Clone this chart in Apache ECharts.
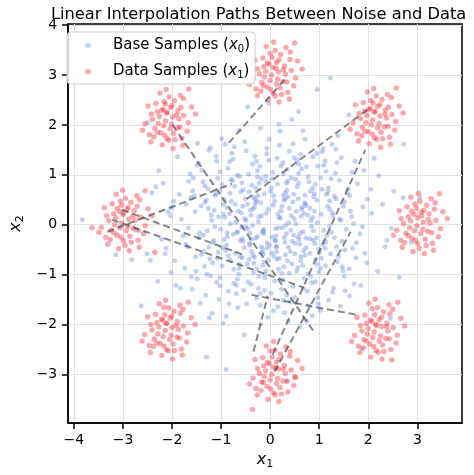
<!DOCTYPE html>
<html>
<head>
<meta charset="utf-8">
<script src="https://cdn.jsdelivr.net/npm/echarts@6/dist/echarts.min.js"></script>
<style>
  html, body { margin: 0; padding: 0; background: #fff; }
  #chart { width: 474px; height: 475px; }
</style>
</head>
<body>
<div id="chart"></div>
<script>
// tick labels
const xTicks = [-4, -3, -2, -1, 0, 1, 2, 3];
const yTicks = [-3, -2, -1, 0, 1, 2, 3, 4];

// base samples x0 (noise cloud)
const baseSamples = [
  [0.12,-0.45],[-1.03,0.67],[0.58,1.21],[-0.27,-0.88],[1.44,0.09],[-0.66,-0.14],[0.31,0.52],[-1.72,-0.39],[0.85,-1.16],[-0.08,0.23],
  [2.05,0.71],[-0.49,1.48],[0.17,-0.06],[-1.21,-1.02],[0.73,0.38],[-0.35,-0.61],[1.12,-0.47],[-0.93,0.15],[0.44,2.11],[-2.18,0.83],
  [0.02,-1.37],[1.67,1.05],[-0.71,0.41],[0.29,-0.26],[-1.48,1.63],[0.96,-0.79],[-0.18,0.92],[0.61,-2.04],[-0.55,-0.33],[1.31,0.57],
  [-0.84,-1.58],[0.38,0.04],[-1.95,-0.72],[1.06,1.46],[-0.12,-0.74],[0.77,0.19],[-0.43,0.66],[2.38,-0.31],[-1.14,0.29],[0.24,-0.97],
  [-0.63,1.89],[1.53,-1.32],[0.09,0.47],[-1.36,-0.21],[0.68,-0.52],[-0.21,1.17],[1.89,0.36],[-0.98,-0.82],[0.47,1.62],[-2.51,-0.58],
  [0.33,-0.18],[-0.77,0.88],[1.21,-0.03],[-0.05,-1.85],[0.92,0.81],[-1.62,0.54],[0.14,1.33],[-0.39,-1.19],[1.75,-0.66],[-1.09,1.27],
  [0.56,-0.86],[-0.24,0.06],[1.38,1.78],[-1.83,-1.27],[0.81,-0.28],[-0.58,-0.05],[0.03,0.74],[2.21,0.98],[-0.89,-0.41],[0.41,-1.54],
  [-1.27,0.72],[0.64,0.31],[-0.15,-0.49],[1.02,-1.71],[-2.03,0.18],[0.27,1.02],[-0.69,-1.38],[1.58,0.63],[-0.32,0.36],[0.88,-0.12],
  [-1.51,-0.93],[0.19,-0.67],[-0.46,2.36],[1.27,0.24],[-0.81,0.02],[0.51,-0.37],[-1.18,-1.77],[2.63,-1.05],[0.07,0.58],[-0.62,0.97],
  [1.09,1.19],[-0.11,-1.06],[0.74,-1.93],[-1.41,0.38],[0.36,0.88],[-2.29,-1.13],[1.47,-0.84],[-0.29,-0.27],[0.95,0.49],[-0.73,1.56],
  [0.21,0.13],[-1.06,-0.55],[1.83,-0.18],[-0.37,0.79],[0.62,1.41],[-1.67,-0.06],[0.11,-0.31],[1.19,0.74],[-0.53,-2.21],[0.83,0.08],
  [-0.94,0.51],[0.46,-1.23],[-0.02,1.71],[1.64,0.27],[-1.31,-1.41],[0.71,-0.61],[-0.19,0.44],[0.99,-0.95],[-2.41,0.64],[0.34,0.69],
  [-0.47,-0.78],[1.35,-0.44],[-0.86,1.13],[0.16,-1.64],[2.12,1.33],[-1.19,0.09],[0.53,0.27],[-0.26,-0.23],[1.71,-1.18],[-0.67,-1.09],
  [0.05,1.05],[-1.57,0.94],[0.89,0.56],[-0.41,-0.41],[1.16,-0.21],[-0.96,-1.97],[0.28,-0.84],[-1.89,1.36],[0.67,1.88],[-0.14,-0.58],
  [1.51,0.46],[-0.59,0.24],[0.42,-0.11],[-1.23,-0.68],[0.97,-1.46],[-0.31,1.37],[1.93,-0.57],[-0.82,0.63],[0.23,-1.29],[-1.45,-0.26],
  [0.78,0.96],[-0.09,-0.92],[1.26,1.61],[-2.12,-0.47],[0.59,-0.29],[-0.51,0.52],[0.18,2.01],[-1.02,-1.22],[1.41,0.11],[-0.23,0.16],
  [-0.75,-0.19],[0.93,-0.69],[-1.39,1.09],[0.39,0.33],[-0.06,-0.36],[1.62,-1.42],[-0.88,0.34],[0.55,1.29],[-1.74,-0.87],[2.29,0.41],
  [0.13,-0.54],[-0.44,1.01],[1.04,0.21],[-1.15,-0.31],[0.69,-1.07],[-0.28,-1.47],[0.87,1.36],[-1.97,0.47],[0.32,-0.01],[-0.61,-0.64],
  [1.23,-0.58],[-0.99,1.72],[0.48,0.61],[-0.16,-0.15],[1.78,0.82],[-1.29,-0.99],[0.06,0.39],[-0.54,-1.31],[1.14,1.07],[-2.67,-0.12],
  [0.63,0.17],[-0.34,-0.96],[0.26,1.24],[-1.53,0.26],[0.91,-0.38],[-0.72,0.77],[1.49,-0.92],[-0.04,-0.71],[0.79,-1.62],[-1.11,0.61],
  [-0.4,0.29],[1.97,-0.76],[-0.66,-1.66],[0.37,-0.45],[-1.25,1.49],[0.82,0.67],[-0.13,-0.09],[1.31,-0.26],[-0.91,-0.51],[0.15,0.81],
  [-1.81,0.11],[0.54,-0.93],[-0.25,0.58],[1.08,1.52],[-0.57,-0.28],[2.47,-0.07],[-1.07,0.93],[0.29,-1.76],[-0.36,1.21],[0.72,0.42],
  [-0.01,-0.41],[-1.43,-1.57],[1.17,0.37],[-0.52,0.12],[0.61,-0.17],[-2.02,-0.95],[1.36,1.24],[-0.78,1.43],[0.09,-1.12],[0.99,-0.49],
  [-0.29,0.73],[1.66,0.16],[-1.17,-0.76],[0.43,0.94],[-0.64,-0.99],[0.84,-0.03],[-1.58,0.68],[0.22,0.28],[1.29,-1.27],[-0.46,-0.08],
  [0.58,2.27],[-0.87,-0.24],[1.01,-0.55],[-0.19,-1.99],[-1.33,0.45],[0.71,0.59],[-0.07,1.53],[1.85,-1.21],[-1.01,-0.09],[0.35,-0.72],
  [-0.56,0.37],[1.24,0.92],[-2.33,0.76],[0.12,-0.22],[0.76,-1.33],[-0.38,-0.53],[1.55,-0.09],[-0.83,1.26],[0.49,0.12],[-1.24,-1.86],
  [0.27,-1.51],[-0.12,0.62],[1.13,-0.82],[-1.69,-0.44],[0.64,1.12],[-0.33,-0.77],[2.07,0.23],[-0.95,0.21],[0.04,-0.25],[0.87,0.73],
  [-1.49,1.19],[0.45,-0.33],[-0.69,-1.21],[1.34,0.52],[-0.09,0.97],[0.66,-0.81],[-1.26,0.33],[0.19,1.59],[1.09,-0.11],[-0.42,-0.37],
  [-0.79,0.47],[1.73,1.27],[0.08,-0.63],[-1.09,-1.15],[0.52,0.02],[-0.21,-1.38],[1.18,0.66],[-2.21,-0.29],[0.39,1.47],[-0.58,0.84],
  [0.94,-0.26],[-0.17,0.18],[1.43,-1.63],[-0.85,-0.62],[0.31,0.64],[-1.63,1.02],[0.73,-0.46],[-0.03,2.43],[1.22,0.31],[-1.36,-0.53],
  [0.17,-0.89],[-0.61,-0.32],[1.59,0.72],[-0.26,1.08],[0.83,-1.03],[-1.05,0.16],[0.46,0.46],[-1.92,-1.21],[1.04,-0.67],[-0.48,-1.58],
  [2.71,0.54],[-0.13,-0.18],[0.58,1.03],[-1.37,0.86],[0.25,-0.06],[-0.74,-0.89],[1.27,-1.35],[-0.31,0.51],[0.69,0.23],[-1.16,-0.36],
  [0.01,0.67],[1.46,-0.33],[-0.92,1.61],[0.34,-1.41],[-0.49,0.09],[1.91,1.09],[-1.28,-0.12],[0.79,0.86],[-0.15,-0.81],[0.57,-0.24],
  [-2.08,0.26],[0.24,0.37],[-0.71,-0.57],[1.12,1.28],[-0.36,-0.01],[0.86,-1.82],[-1.52,-0.64],[0.43,0.18],[-0.03,1.29],[1.39,-0.63],
  [-0.67,0.99],[0.5,-0.58],[-1.22,1.54],[0.96,0.04],[-0.24,-1.27],[1.68,-0.47],[-0.96,0.41],[0.13,-0.43],[0.71,1.71],[-1.61,-1.04],
  [0.36,0.56],[-0.45,-1.14],[1.21,0.48],[-0.04,0.31],[2.19,-0.93],[-1.33,0.78],[0.62,-0.72],[-0.22,0.83],[0.98,-1.58],[-0.81,-0.71],
  [0.22,1.18],[-1.71,0.41],[0.67,-0.14],[-0.53,-0.46],[1.33,1.03],[-0.11,-0.98],[0.9,0.27],[-1.04,-1.49],[0.41,-0.53],[-0.27,0.47],
  [1.62,0.58],[-0.88,-0.16],[0.07,-1.72],[-1.46,1.23],[0.55,0.76],[-0.39,0.19],[1.07,-0.39],[-2.44,-0.71],[0.28,0.49],[-0.63,-0.87],
  [0.81,-0.57],[-0.07,1.42],[1.51,-1.03],[-1.13,-0.04],[0.39,-0.97],[-0.76,1.31],[1.98,0.51],[-0.32,-0.65],[0.65,0.35],[-1.55,0.58],
  [0.1,-0.32],[-0.98,0.81],[1.25,-0.15],[-0.2,-1.61],[0.74,1.16],[-1.34,-0.83],[0.48,-0.21],[-0.6,0.66],[1.41,0.89],[-0.14,-0.12],
  [-1.77,-0.22],[0.33,0.83],[-0.43,-0.69],[0.92,-1.14],[-1.02,1.06],[1.76,-0.36],[-0.3,0.43],[0.6,-0.39],[-0.85,-1.33],[0.2,1.87],
  [1.15,0.61],[-1.2,0.19],[0.03,-0.57],[-0.52,1.66],[0.86,0.14],[-2.14,-0.58],[1.37,-0.74],[-0.18,-0.44],[0.52,0.91],[-0.94,-0.3],
  [0.68,-1.28],[-0.35,0.32],[1.03,0.94],[-1.59,-1.29],[0.16,0.22],[-0.68,-0.15],[2.34,-0.44],[-1.12,0.59],[0.44,-0.78],[0.95,1.43],
  [-0.23,-1.03],[1.49,0.37],[-0.83,0.22],[0.3,-0.35],[-1.4,-0.59],[0.77,-0.98],[-0.09,0.87],[1.19,-1.51],[-0.55,0.7],[0.11,-0.08],
  [-1.08,-0.67],[0.57,0.52],[-0.2,1.93],[1.88,-0.04],[-0.74,-1.17],[0.35,1.11],[-1.66,0.87],[0.88,-0.31],[-0.38,-0.29],[1.28,0.18],
  [0.04,0.92],[-0.9,-1.83],[0.63,-0.64],[-1.3,0.49],[1.06,0.71],[-0.17,-0.55],[0.49,1.34],[-2.01,0.34],[1.52,-0.5],[-0.65,0.27],
  [0.25,-1.1],[-0.5,-0.04],[1.34,1.51],[-0.97,-0.46],[0.7,0.44],[-1.49,-1.08],[0.14,-0.69],[-0.28,1.27],[1.03,-0.87],[-0.8,0.9],
  [1.7,0.02],[-0.34,0.55],[0.5,-1.45],[-1.1,1.37],[0.27,0.59],[-0.62,-0.79],[2.52,0.67],[-1.25,-0.45],[0.81,0.33],[-0.06,-0.46],
  [-0.46,0.41],[1.13,-0.34],[-1.85,0.61],[0.58,0.83],[-0.12,-1.31],[0.97,1.17],[-0.7,0.05],[0.31,-0.6],[-1.44,-0.16],[1.61,-0.88],
  [-0.26,0.96],[0.73,-0.27],[-1.03,-1.06],[0.18,0.15],[1.45,1.34],[-0.57,-0.66],[0.37,-1.93],[-2.27,1.08],[0.9,0.62],[-0.41,-0.17],
  [-3.83,0.1],[-2.82,-0.7],[1.23,2.94],[-3.15,-0.6],[2.88,-0.35],[0.35,-3.12],[-0.61,3.05],[2.72,1.61],[-2.63,-1.62],[1.86,-2.48],
  [3.05,0.55],[-1.3,-2.65],[0.96,2.71],[-2.5,2.05],[2.45,-1.87],[-0.9,-2.9],[1.6,2.2]
];

// data samples x1, one list per mode
const dataRight = [
  [3.12,0.05],[2.81,-0.22],[3.35,0.31],[2.95,0.41],[3.04,-0.47],[2.67,0.12],[3.21,-0.13],[2.88,0.27],[3.47,-0.08],[3.09,0.18],
  [2.74,-0.36],[3.28,0.52],[2.99,-0.02],[3.16,-0.29],[2.58,-0.11],[3.38,0.09],[2.91,-0.54],[3.02,0.63],[2.79,0.36],[3.24,0.22],
  [3.07,-0.18],[2.86,0.08],[3.52,0.26],[2.96,-0.31],[3.19,0.39],[2.69,-0.45],[3.31,-0.37],[3.01,0.14],[2.84,-0.06],[3.14,-0.58],
  [2.63,0.28],[3.43,-0.24],[2.93,0.21],[3.26,0.03],[3.05,0.47],[2.77,-0.17],[3.61,0.12],[2.89,-0.27],[3.11,-0.09],[2.98,0.33],
  [3.36,0.44],[2.72,0.02],[3.18,-0.41],[2.87,0.55],[3.08,0.25],[2.51,-0.21],[3.29,-0.16],[3.0,-0.38],[2.82,0.16],[3.22,0.11],
  [3.45,0.62],[2.94,-0.12],[3.13,0.29],[2.66,-0.31],[3.33,-0.51]
];
const dataUpperRight = [
  [2.24,2.18],[1.93,1.87],[2.41,2.36],[2.05,2.49],[2.17,1.71],[1.81,2.23],[2.33,1.96],[2.01,2.31],[2.56,2.07],[2.14,2.27],
  [1.87,1.78],[2.39,2.61],[2.09,2.1],[2.26,1.85],[1.69,2.04],[2.48,2.21],[2.02,1.62],[2.11,2.73],[1.9,2.45],[2.35,2.3],
  [2.19,1.94],[1.97,2.19],[2.63,2.38],[2.08,1.81],[2.28,2.51],[1.8,1.68],[2.43,1.75],[2.12,2.26],[1.95,2.05],[2.25,1.55],
  [1.74,2.4],[2.54,1.89],[2.04,2.33],[2.37,2.14],[2.16,2.58],[1.88,1.95],[2.71,2.24],[2.0,1.86],[2.22,2.03],[2.1,2.44],
  [2.47,2.55],[1.84,2.13],[2.29,1.72],[1.98,2.66],[2.19,2.37],[1.63,1.91],[2.4,1.97],[2.13,1.74],[1.93,2.28],[2.34,2.22],
  [2.57,2.74],[2.06,2.0],[2.24,2.41],[1.77,1.82],[2.45,1.61]
];
const dataTop = [
  [0.17,3.06],[-0.14,2.79],[0.4,3.31],[0.0,3.43],[0.1,2.58],[-0.26,3.12],[0.26,2.87],[-0.06,3.24],[0.52,2.94],[0.12,3.13],
  [-0.19,2.68],[0.32,3.55],[0.03,3.0],[0.2,2.74],[-0.35,2.93],[0.43,3.09],[-0.04,2.5],[0.07,3.66],[-0.15,3.34],[0.29,3.18],
  [0.13,2.82],[-0.09,3.07],[0.56,3.28],[0.01,2.71],[0.21,3.41],[-0.26,2.59],[0.36,2.65],[0.06,3.15],[-0.12,2.96],[0.18,2.46],
  [-0.31,3.3],[0.48,2.78],[-0.02,3.22],[0.31,3.02],[0.1,3.49],[-0.17,2.85],[0.65,3.12],[-0.06,2.76],[0.15,2.92],[0.04,3.35],
  [0.41,3.46],[-0.22,3.02],[0.23,2.61],[-0.08,3.57],[0.13,3.25],[-0.42,2.81],[0.34,2.86],[0.07,2.63],[-0.13,3.17],[0.27,3.11],
  [0.5,3.64],[0.0,2.89],[0.18,3.3],[-0.29,2.72],[0.39,2.52]
];
const dataUpperLeft = [
  [-1.99,2.16],[-2.3,1.85],[-1.82,2.35],[-2.16,2.47],[-2.07,1.69],[-2.42,2.22],[-1.89,1.94],[-2.21,2.29],[-1.67,2.05],[-2.1,2.25],
  [-2.37,1.76],[-1.83,2.59],[-2.13,2.08],[-1.97,1.83],[-2.55,2.02],[-1.76,2.19],[-2.2,1.6],[-2.12,2.71],[-2.33,2.43],[-1.88,2.28],
  [-2.04,1.92],[-2.26,2.17],[-1.6,2.36],[-2.15,1.79],[-1.95,2.49],[-2.43,1.66],[-1.8,1.73],[-2.11,2.24],[-2.28,2.03],[-1.98,1.53],
  [-2.49,2.38],[-1.69,1.87],[-2.18,2.31],[-1.86,2.12],[-2.06,2.56],[-2.35,1.93],[-1.52,2.22],[-2.23,1.84],[-2.01,2.01],[-2.14,2.42],
  [-1.77,2.53],[-2.4,2.11],[-1.94,1.7],[-2.25,2.64],[-2.03,2.35],[-2.6,1.89],[-1.84,1.95],[-2.1,1.72],[-2.3,2.26],[-1.91,2.2],
  [-1.66,2.72],[-2.17,1.98],[-2.0,2.39],[-2.46,1.8],[-1.78,1.59]
];
const dataLeft = [
  [-2.88,0.11],[-3.19,-0.16],[-2.71,0.37],[-3.05,0.47],[-2.96,-0.41],[-3.33,0.18],[-2.79,-0.07],[-3.12,0.33],[-2.55,-0.02],[-2.99,0.24],
  [-3.26,-0.3],[-2.72,0.58],[-3.03,0.04],[-2.86,-0.23],[-3.44,-0.05],[-2.64,0.15],[-3.09,-0.48],[-3.01,0.69],[-3.22,0.42],[-2.77,0.28],
  [-2.93,-0.12],[-3.15,0.14],[-2.49,0.32],[-3.04,-0.25],[-2.84,0.45],[-3.31,-0.39],[-2.69,-0.31],[-3.0,0.2],[-3.17,0.0],[-2.87,-0.52],
  [-3.38,0.34],[-2.58,-0.18],[-3.07,0.27],[-2.75,0.09],[-2.95,0.53],[-3.24,-0.11],[-2.41,0.18],[-3.12,-0.21],[-2.9,-0.03],[-3.03,0.39],
  [-2.66,0.5],[-3.29,0.08],[-2.83,-0.35],[-3.14,0.61],[-2.92,0.31],[-3.49,-0.15],[-2.73,-0.1],[-2.99,-0.32],[-3.19,0.22],[-2.8,0.17],
  [-2.55,0.68],[-3.06,-0.06],[-2.89,0.35],[-3.35,-0.25],[-2.67,-0.45],[-3.63,-0.06],[-2.35,-0.55]
];
const dataLowerLeft = [
  [-2.0,-2.06],[-2.31,-2.37],[-1.83,-1.77],[-2.17,-1.65],[-2.08,-2.53],[-2.43,-2.0],[-1.9,-2.25],[-2.22,-1.89],[-1.68,-2.17],[-2.11,-1.97],
  [-2.38,-2.44],[-1.84,-1.61],[-2.14,-2.12],[-1.98,-2.39],[-2.56,-2.2],[-1.77,-2.03],[-2.21,-2.62],[-2.13,-1.51],[-2.34,-1.79],[-1.89,-1.94],
  [-2.05,-2.3],[-2.27,-2.05],[-1.61,-1.86],[-2.16,-2.43],[-1.96,-1.73],[-2.44,-2.56],[-1.81,-2.49],[-2.12,-1.98],[-2.29,-2.19],[-1.99,-2.69],
  [-2.5,-1.84],[-1.7,-2.35],[-2.19,-1.91],[-1.87,-2.1],[-2.07,-1.66],[-2.36,-2.29],[-1.53,-2.0],[-2.24,-2.38],[-2.02,-2.21],[-2.15,-1.8],
  [-1.78,-1.69],[-2.41,-2.11],[-1.95,-2.52],[-2.26,-1.58],[-2.04,-1.87],[-2.61,-2.33],[-1.85,-2.27],[-2.11,-2.5],[-2.31,-1.96],[-1.92,-2.02],
  [-1.67,-1.55],[-2.18,-2.24],[-2.01,-1.83],[-2.47,-2.42],[-1.79,-2.61]
];
const dataBottom = [
  [0.17,-2.89],[-0.14,-3.16],[0.4,-2.63],[0.0,-2.53],[0.1,-3.41],[-0.26,-2.88],[0.26,-3.13],[-0.06,-2.76],[0.52,-3.06],[0.12,-2.87],
  [-0.19,-3.32],[0.32,-2.45],[0.03,-3.0],[0.2,-3.26],[-0.35,-3.07],[0.43,-2.91],[-0.04,-3.5],[0.07,-2.34],[-0.15,-2.66],[0.29,-2.82],
  [0.13,-3.18],[-0.09,-2.93],[0.56,-2.72],[0.01,-3.29],[0.21,-2.59],[-0.26,-3.41],[0.36,-3.35],[0.06,-2.85],[-0.12,-3.04],[0.18,-3.54],
  [-0.31,-2.7],[0.48,-3.22],[-0.02,-2.78],[0.31,-2.98],[0.1,-2.51],[-0.17,-3.15],[0.65,-2.88],[-0.06,-3.24],[0.15,-3.08],[0.04,-2.65],
  [0.41,-2.54],[-0.22,-2.98],[0.23,-3.39],[-0.08,-2.43],[0.13,-2.75],[-0.42,-3.19],[0.34,-3.14],[0.07,-3.37],[-0.13,-2.83],[0.27,-2.89],
  [0.5,-3.05],[0.0,-3.11],[0.18,-2.7],[-0.29,-3.28],[-0.36,-3.7]
];
const dataLowerRight = [
  [2.27,-2.04],[1.96,-2.33],[2.44,-1.78],[2.08,-1.68],[2.2,-2.56],[1.84,-2.02],[2.36,-2.28],[2.04,-1.91],[2.59,-2.21],[2.17,-2.02],
  [1.9,-2.47],[2.42,-1.6],[2.12,-2.15],[2.29,-2.41],[1.72,-2.22],[2.51,-2.06],[2.05,-2.65],[2.14,-1.49],[1.93,-1.81],[2.38,-1.97],
  [2.22,-2.33],[2.0,-2.08],[2.66,-1.87],[2.11,-2.44],[2.31,-1.74],[1.83,-2.56],[2.46,-2.5],[2.15,-2.0],[1.98,-2.19],[2.28,-2.69],
  [1.77,-1.85],[2.57,-2.37],[2.07,-1.93],[2.4,-2.13],[2.19,-1.66],[1.91,-2.3],[2.74,-2.03],[2.03,-2.39],[2.25,-2.23],[2.13,-1.8],
  [2.5,-1.69],[1.87,-2.13],[2.32,-2.54],[2.01,-1.57],[2.22,-1.9],[1.66,-2.34],[2.43,-2.29],[2.16,-2.52],[1.96,-1.98],[2.37,-2.04],
  [2.6,-1.55],[2.09,-2.26],[2.27,-1.85],[1.8,-2.43],[2.48,-2.71]
];

// interpolation paths: data end (x1) and noise end (x0)
const pathData = [[0.29,2.9],[-1.99,2.0],[1.98,2.3],[-3.32,-0.14],[-3.02,0.3],[-3.22,0.1],[1.74,-1.8],[-0.34,-2.54],[0.05,-2.6],[0.09,-2.94]];
const pathBase = [[-0.84,1.64],[0.89,-2.14],[-0.5,0.5],[-0.78,0.82],[-0.5,-0.62],[0.69,-1.26],[-0.4,-1.4],[-0.05,-1.42],[1.94,1.5],[1.64,-0.14]];

const dataSamples = [].concat(dataRight, dataUpperRight, dataTop, dataUpperLeft,
  dataLeft, dataLowerLeft, dataBottom, dataLowerRight);

const minus = v => String(v).replace('-', '\u2212');
const font = 'DejaVu Sans';
const subRich = {
  i: { fontStyle: 'italic', fontSize: 16, fontFamily: font, color: '#000' },
  s: { fontSize: 11, fontFamily: font, color: '#000', verticalAlign: 'bottom', padding: [8, 0, 0, 0] }
};

const chart = echarts.init(document.getElementById('chart'), null, { renderer: 'canvas' });

const pathSeries = pathData.map((p, i) => ({
  type: 'line',
  data: [p, pathBase[i]],
  symbol: 'none',
  silent: true,
  z: 5,
  lineStyle: { color: 'rgba(70,70,70,0.65)', width: 2, type: [7, 4] }
}));

const option = {
  animation: false,
  backgroundColor: '#fff',
  textStyle: { fontFamily: font },
  title: {
    text: 'Linear Interpolation Paths Between Noise and Data',
    left: 46, top: 2,
    textStyle: { fontFamily: font, fontSize: 16.25, fontWeight: 'normal', color: '#000' }
  },
  legend: {
    data: ['Base Samples', 'Data Samples'],
    orient: 'vertical',
    left: 67, top: 32,
    icon: 'circle',
    itemWidth: 6, itemHeight: 6,
    itemGap: 10,
    padding: [6, 5, 4, 17],
    backgroundColor: 'rgba(255,255,255,0.85)',
    borderColor: '#cccccc', borderWidth: 1, borderRadius: 4,
    formatter: name => name === 'Base Samples'
      ? 'Base Samples ({i|x}{s|0})' : 'Data Samples ({i|x}{s|1})',
    textStyle: {
      fontFamily: font, fontSize: 15, color: '#000', padding: [0, 0, 0, 17],
      rich: {
        i: { fontStyle: 'italic', fontSize: 15, fontFamily: font, color: '#000' },
        s: { fontSize: 10, fontFamily: font, color: '#000', verticalAlign: 'bottom', padding: [7, 0, 0, 0] }
      }
    }
  },
  grid: {
    left: 59, top: 24, width: 403, height: 399,
    show: true, borderColor: '#000', borderWidth: 1.5
  },
  xAxis: {
    type: 'value', min: -4.12, max: 3.91, splitNumber: 8,
    name: '{i|x}{s|1}', nameLocation: 'middle', nameGap: 26,
    nameTextStyle: { rich: subRich },
    axisLine: { show: true, onZero: false, lineStyle: { color: '#000', width: 1.5 } },
    axisTick: { show: true, length: 6, customValues: xTicks, lineStyle: { color: '#000', width: 1.5 } },
    axisLabel: { customValues: xTicks, margin: 10, fontSize: 14, color: '#000', fontFamily: font, formatter: minus },
    splitLine: { show: true, lineStyle: { color: '#e2e2e2', width: 1 } }
  },
  yAxis: {
    type: 'value', min: -3.97, max: 4.02, splitNumber: 8,
    name: '{i|x}{s|2}', nameLocation: 'middle', nameGap: 36, nameRotate: 90,
    nameTextStyle: { rich: subRich },
    axisLine: { show: true, onZero: false, lineStyle: { color: '#000', width: 1.5 } },
    axisTick: { show: true, length: 6, customValues: yTicks, lineStyle: { color: '#000', width: 1.5 } },
    axisLabel: { customValues: yTicks, margin: 11, fontSize: 14, color: '#000', fontFamily: font, formatter: minus },
    splitLine: { show: true, lineStyle: { color: '#e2e2e2', width: 1 } }
  },
  series: [
    {
      name: 'Base Samples', type: 'scatter', data: baseSamples, symbolSize: 5, z: 2,
      itemStyle: { color: 'rgba(65,105,225,0.4)', borderColor: 'rgba(255,255,255,0.4)', borderWidth: 0.5 }
    },
    {
      name: 'Data Samples', type: 'scatter', data: dataSamples, symbolSize: 5.5, z: 3,
      itemStyle: { color: 'rgba(250,10,20,0.46)', borderColor: 'rgba(255,255,255,0.4)', borderWidth: 0.5 }
    }
  ].concat(pathSeries)
};

chart.setOption(option);
</script>
</body>
</html>
